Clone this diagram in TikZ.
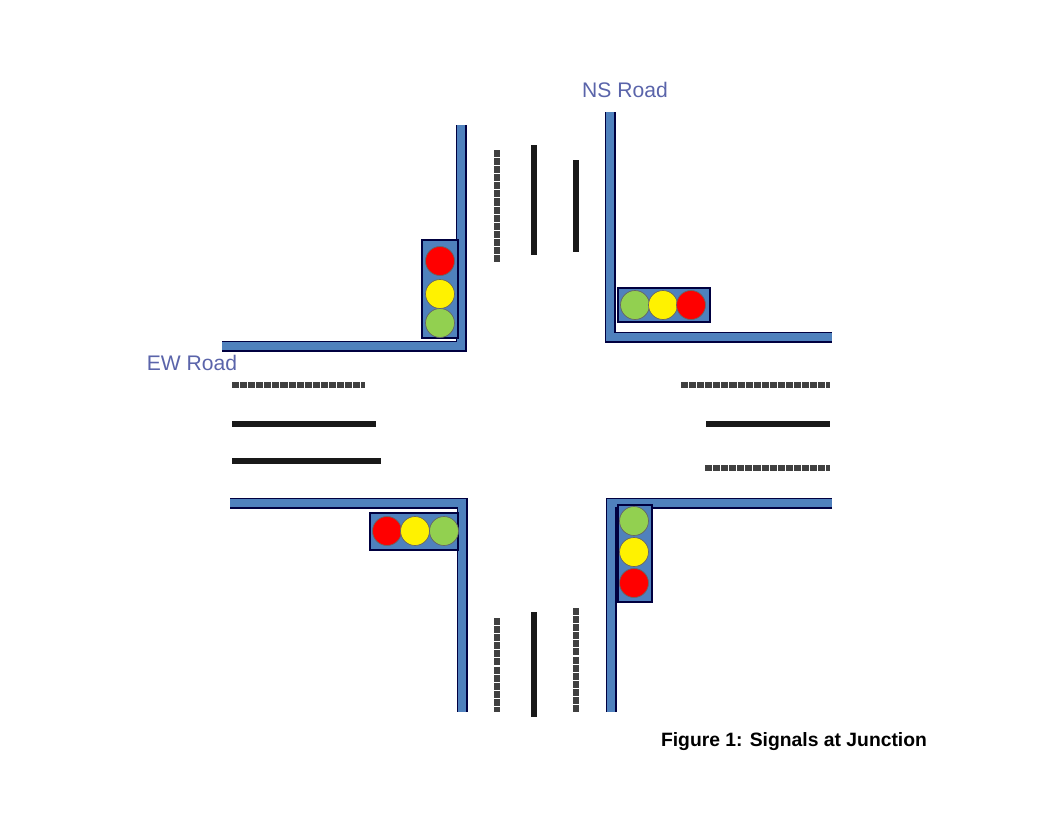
\documentclass[tikz,border=0pt]{standalone}
\usepackage{fontspec}
\setmainfont{Liberation Sans}
\begin{document}
\begin{tikzpicture}[x=0.02cm,y=-0.02cm,
  curb/.style={draw=black!75!blue, line width=0.22cm},
  curbi/.style={draw={rgb,255:red,79;green,129;blue,189}, line width=0.16cm},
  box/.style={draw=black!75!blue, fill={rgb,255:red,79;green,129;blue,189}, line width=0.8pt},
  lamp/.style={circle, draw=black!60, line width=0.4pt, minimum size=0.58cm, inner sep=0pt},
  red/.style={lamp, fill=red}, yel/.style={lamp, fill=yellow}, grn/.style={lamp, fill={rgb,255:red,146;green,208;blue,80}},
  solid/.style={line width=0.11cm, draw=black!90},
  dots/.style={line width=0.13cm, draw=black!75, dash pattern=on 4pt off 0.6pt},
  lbl/.style={text={rgb,255:red,90;green,100;blue,170}, font=\large}]
\useasboundingbox (0,0) rectangle (1052,822);
% curbs
\foreach \p in {{(461,125) -- (461,346) -- (222,346)},{(610,112) -- (610,337) -- (832,337)},{(230,503) -- (462,503) -- (462,712)},{(832,503) -- (611,503) -- (611,712)}}{
  \draw[curb] \p; \draw[curbi] \p;}
% signals
\draw[box] (422,240) rectangle (458,338);
\node[red] (tl1) at (440,261) {}; \node[yel] (tl2) at (440,294) {}; \node[grn] (tl3) at (440,323) {};
\draw[box] (618,288) rectangle (710,322);
\node[grn] (tr1) at (635,305) {}; \node[yel] (tr2) at (663,305) {}; \node[red] (tr3) at (691,305) {};
\draw[box] (370,513) rectangle (458,550);
\node[red] (bl1) at (387,531) {}; \node[yel] (bl2) at (415,531) {}; \node[grn] (bl3) at (444,531) {};
\draw[box] (618,505) rectangle (652,602);
\node[grn] (br1) at (634,521) {}; \node[yel] (br2) at (634,552) {}; \node[red] (br3) at (634,583) {};
% lane markings
\draw[dots] (497,150) -- (497,262); \draw[solid] (534,145) -- (534,255); \draw[solid] (576,160) -- (576,252);
\draw[dots] (497,618) -- (497,712); \draw[solid] (534,612) -- (534,717); \draw[dots] (576,608) -- (576,712);
\draw[dots] (232,385) -- (365,385); \draw[solid] (232,424) -- (376,424); \draw[solid] (232,461) -- (381,461);
\draw[dots] (681,385) -- (830,385); \draw[solid] (706,424) -- (830,424); \draw[dots] (705,468) -- (830,468);
% labels
\node[lbl] (ns) at (625,90) {NS Road};
\node[lbl] (ew) at (192,363) {EW Road};
\node[font=\fontsize{11}{13}\selectfont\bfseries] (cap) at (794,742) {Figure 1: Signals at Junction};
\end{tikzpicture}
\end{document}
